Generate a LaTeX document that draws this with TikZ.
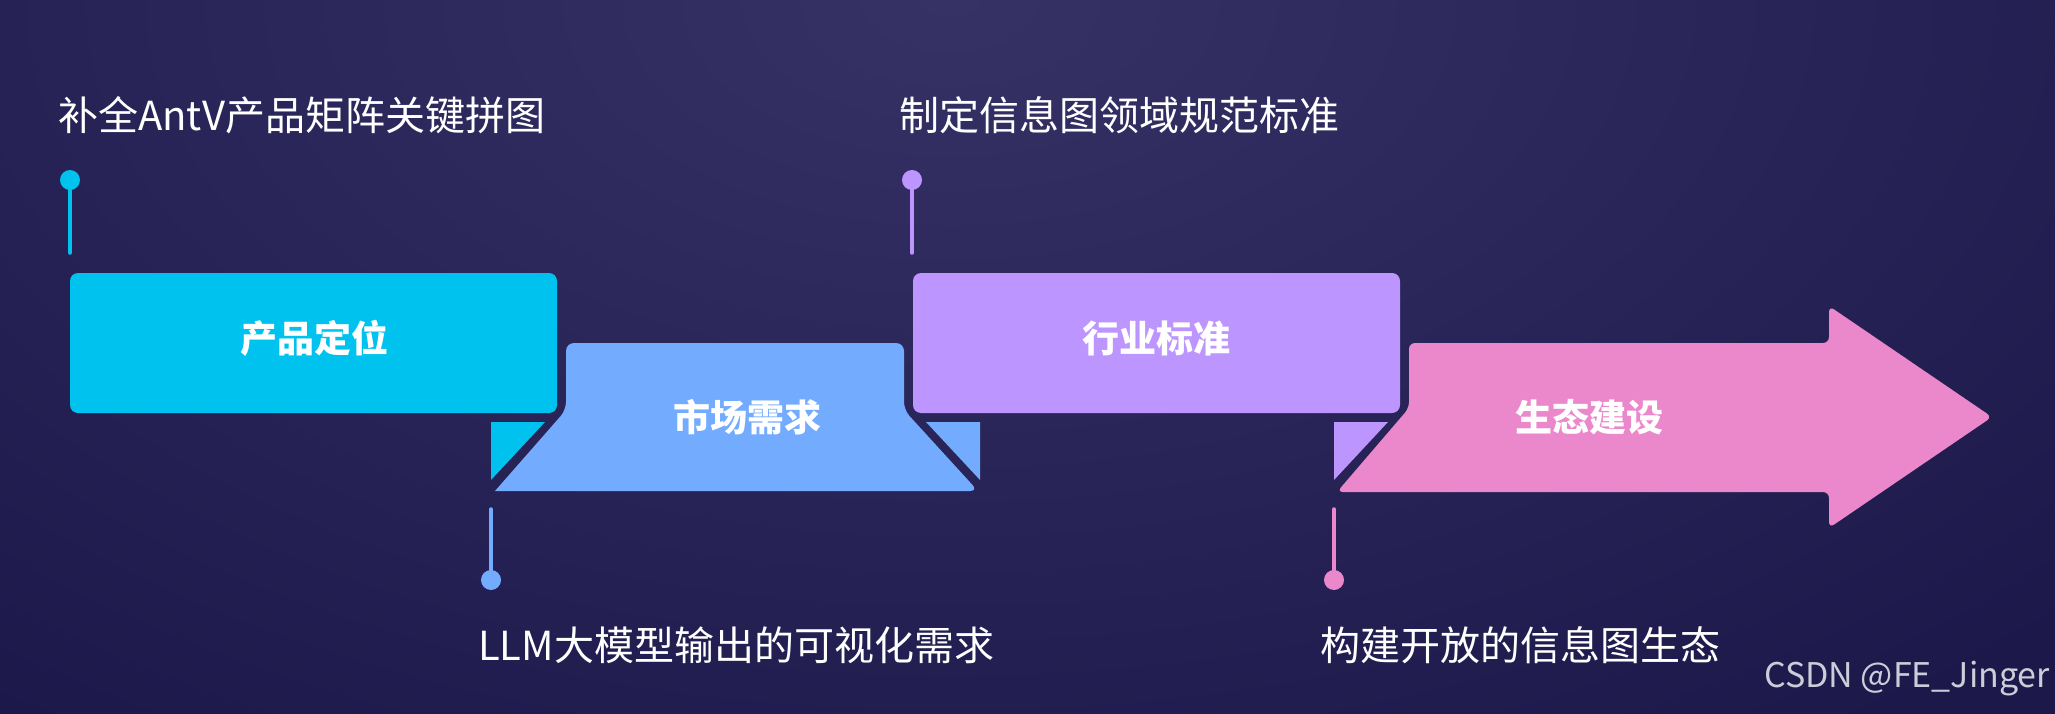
\documentclass[tikz,border=0pt]{standalone}
\usepackage{fontspec}
\setmainfont{Noto Sans CJK SC}
\newfontfamily\boldcjk{Noto Sans CJK SC Bold}
\definecolor{bgA}{HTML}{1D184A}
\definecolor{bgB}{HTML}{363266}
\definecolor{cCyan}{HTML}{00C2EE}
\definecolor{cBlue}{HTML}{73ACFF}
\definecolor{cPurple}{HTML}{BD95FF}
\definecolor{cPink}{HTML}{EB88CB}
\tikzset{
  boxlabel/.style={text=white,font=\fontsize{37}{40}\selectfont\bfseries},
  desc/.style={text=white,anchor=west,font=\fontsize{40}{44}\selectfont,inner sep=0pt},
  pindot/.style={circle,fill=#1,minimum size=20pt,inner sep=0pt},
  pinline/.style={draw=#1,line width=3.5pt,line cap=round},
}
\begin{document}
\begin{tikzpicture}[x=1pt,y=-1pt]
\useasboundingbox (0,0) rectangle (2055,714);
\shade[outer color=bgA,inner color=bgB] (-600,-900) rectangle (2500,900);
\fill[bgA,opacity=0.0] (0,0) rectangle (2055,714);
% small triangles
\fill[cCyan] (491,422) -- (545,422) -- (491,480) -- cycle;
\fill[cBlue] (926,422) -- (980,422) -- (980,480) -- cycle;
\fill[cPurple] (1334,422) -- (1388,422) -- (1334,480) -- cycle;
% main shapes
\fill[cCyan,rounded corners=8pt] (70,273) rectangle (557,413);
\fill[cPurple,rounded corners=8pt] (913,273) rectangle (1400,413);
\fill[cBlue,rounded corners=8pt] (566,410) -- (566,343) -- (904,343) -- (904,410) -- (978,491) [sharp corners] -- (495,491) [rounded corners=8pt] -- cycle;
\fill[cPink,rounded corners=6pt] (1409,408) -- (1409,343) -- (1829,343) -- (1829,306) -- (1992,417) -- (1829,528) -- (1829,492) -- (1337,492) -- cycle;
% labels
\node[boxlabel] (l1) at (314,338) {产品定位};
\node[boxlabel] (l2) at (747,417) {市场需求};
\node[boxlabel] (l3) at (1156,338) {行业标准};
\node[boxlabel] (l4) at (1589,417) {生态建设};
% pins
\node[pindot=cCyan] (d1) at (70,180) {};
\coordinate (e1) at (70,253);
\draw[pinline=cCyan] (d1.center) -- (e1);
\node[pindot=cPurple] (d3) at (912,180) {};
\coordinate (e3) at (912,253);
\draw[pinline=cPurple] (d3.center) -- (e3);
\node[pindot=cBlue] (d2) at (491,580) {};
\coordinate (e2) at (491,509);
\draw[pinline=cBlue] (d2.center) -- (e2);
\node[pindot=cPink] (d4) at (1334,580) {};
\coordinate (e4) at (1334,509);
\draw[pinline=cPink] (d4.center) -- (e4);
% texts
\node[desc] (t1) at (58,115) {补全AntV产品矩阵关键拼图};
\node[desc] (t3) at (899,115) {制定信息图领域规范标准};
\node[desc] (t2) at (478,645) {LLM大模型输出的可视化需求};
\node[desc] (t4) at (1320,645) {构建开放的信息图生态};
\node[text=white!75!bgB,anchor=east,font=\fontsize{34}{38}\selectfont,inner sep=0pt] (wm) at (2050,679) {CSDN @FE\_Jinger};
\end{tikzpicture}
\end{document}
